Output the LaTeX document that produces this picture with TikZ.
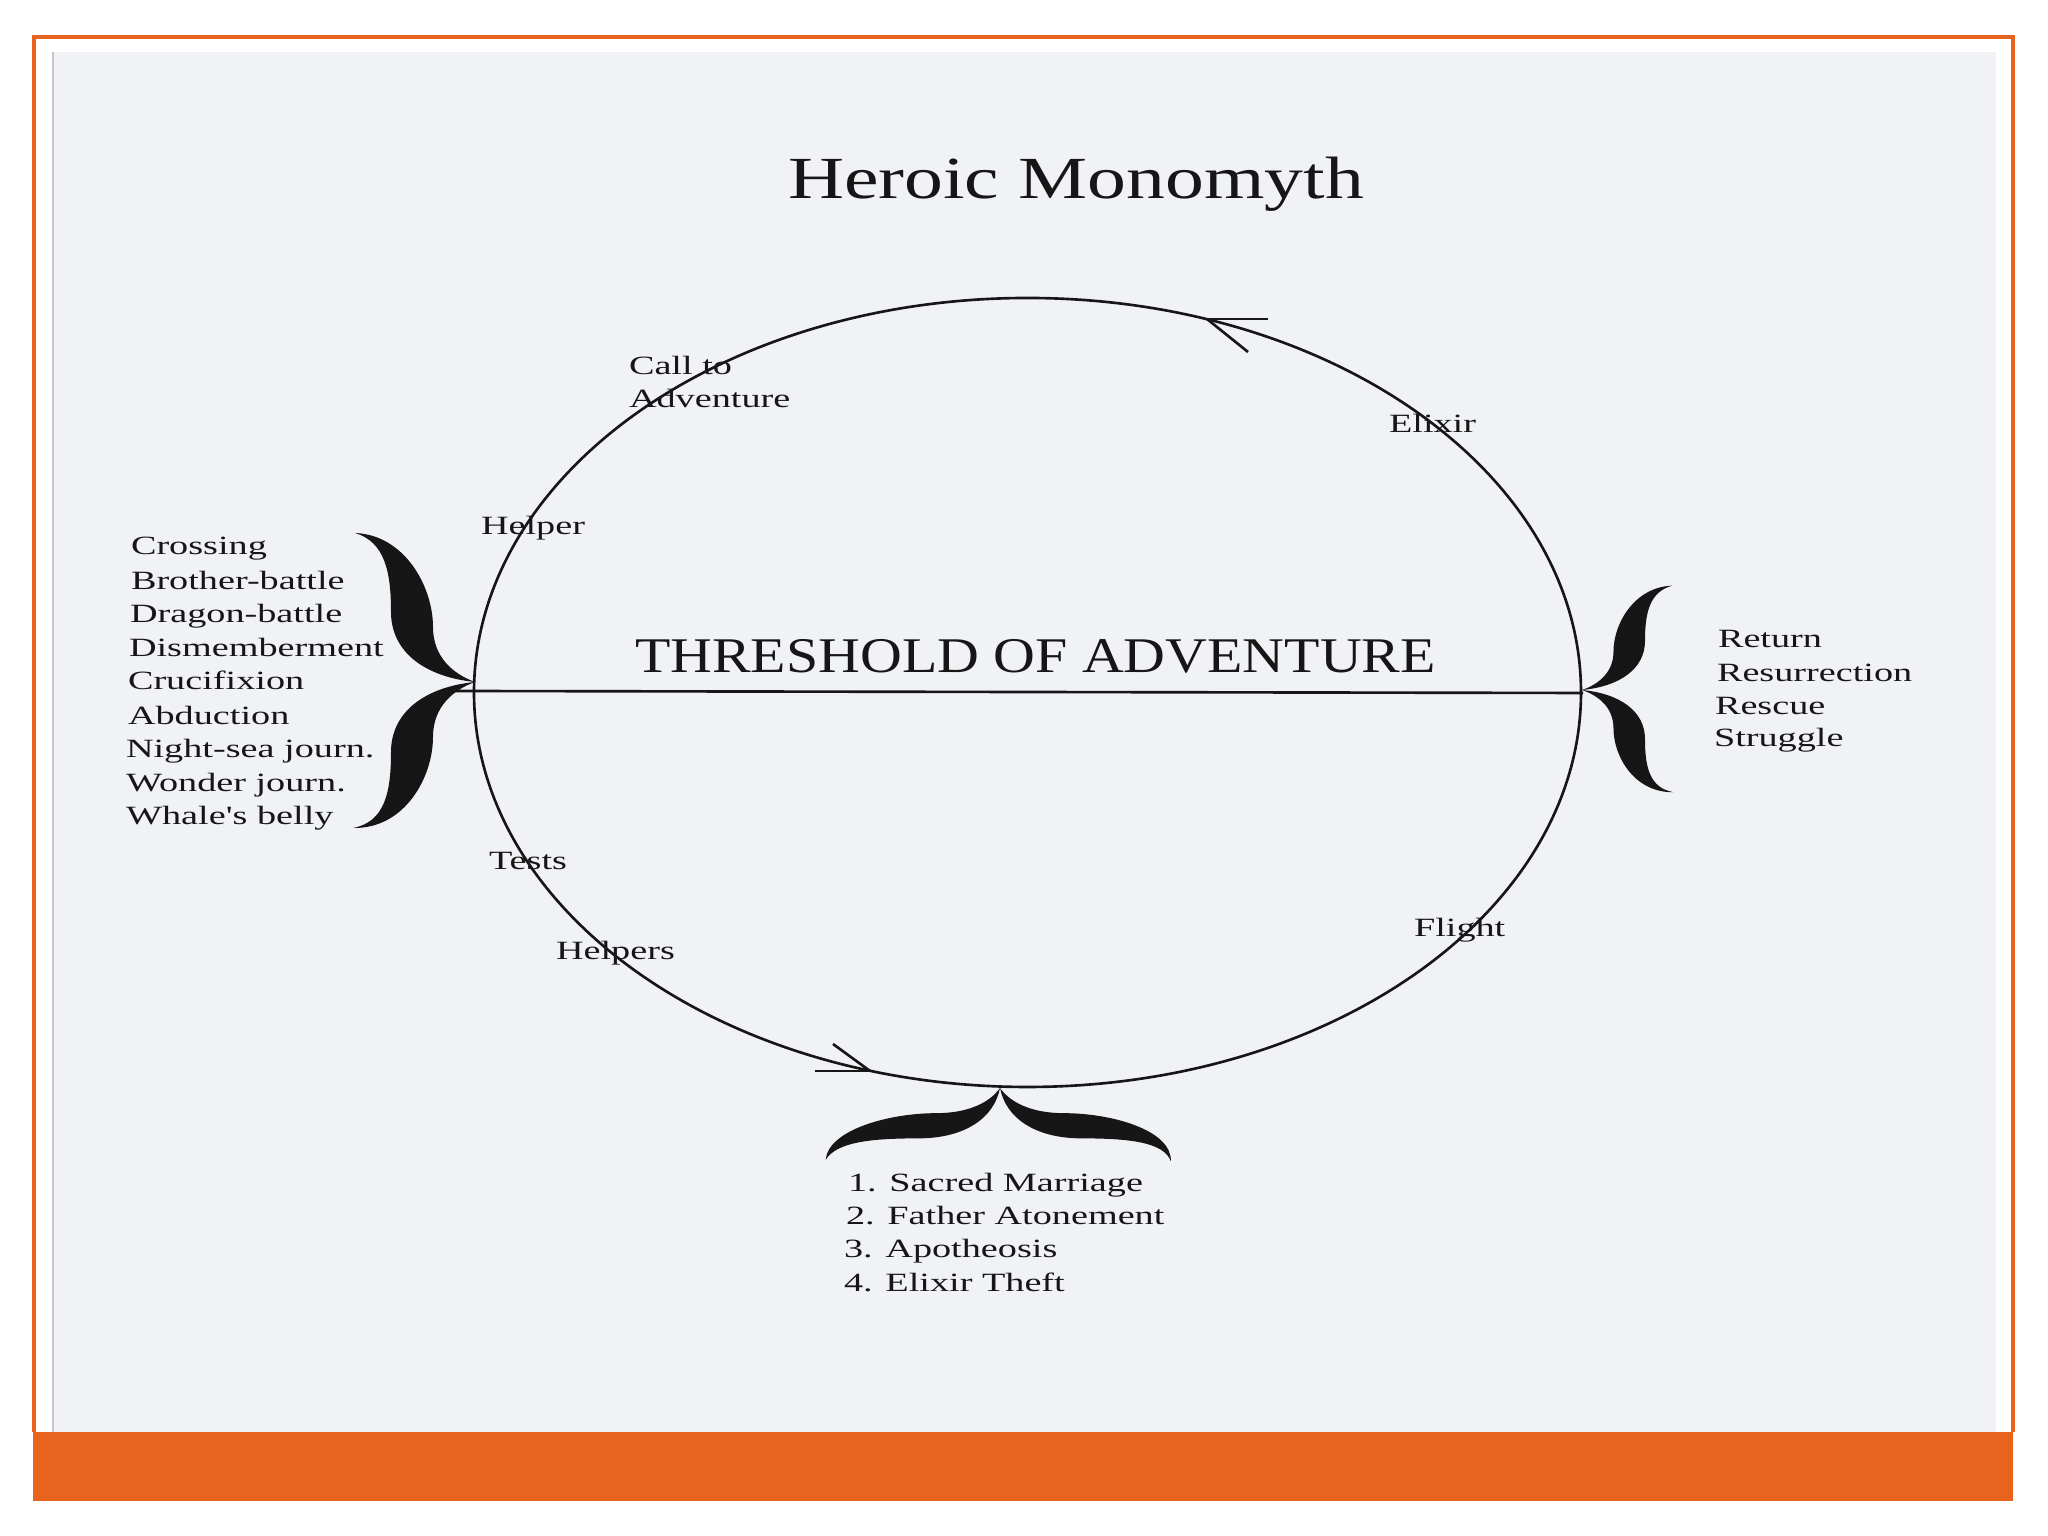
\documentclass[tikz,border=0pt]{standalone}
\usepackage{fontspec}
\setmainfont{Liberation Serif}
\usepackage{tikz}
\definecolor{ink}{RGB}{22,22,22}
\definecolor{paper}{RGB}{240,242,245}
\definecolor{slideorange}{RGB}{232,99,29}
\newcommand{\straightapos}{\XeTeXglyph\XeTeXglyphindex "quotesingle"\relax}

\tikzset{
  lbl/.style={font=\fontsize{7.5}{9.7}\selectfont, xscale=1.45, inner sep=0pt, text=ink, anchor=base west},
  heading/.style={font=\fontsize{17}{20}\selectfont, xscale=1.3, inner sep=0pt, text=ink, anchor=base},
  thresh/.style={font=\fontsize{14.2}{17}\selectfont, xscale=1.16, inner sep=0pt, text=ink, anchor=base},
  cycleline/.style={draw=ink, line width=0.75pt},
  herobrace/.pic={
    \fill[ink] (0,0) .. controls (-0.22,0.08) and (-0.42,0.25) .. (-0.42,0.55)
      .. controls (-0.42,0.95) and (-0.70,1.47) .. (-1.20,1.49)
      .. controls (-0.90,1.40) and (-0.84,1.10) .. (-0.84,0.70)
      .. controls (-0.84,0.30) and (-0.50,0.05) .. (0,0) -- cycle;
    \fill[ink] (0,0) .. controls (-0.22,-0.08) and (-0.42,-0.25) .. (-0.42,-0.55)
      .. controls (-0.42,-0.95) and (-0.70,-1.47) .. (-1.22,-1.46)
      .. controls (-0.90,-1.40) and (-0.84,-1.10) .. (-0.84,-0.70)
      .. controls (-0.84,-0.30) and (-0.50,-0.05) .. (0,0) -- cycle;
  }
}

\begin{document}
\begin{tikzpicture}
\useasboundingbox (0,0) rectangle (20.48,15.36);
\fill[white] (0,0) rectangle (20.48,15.36);
\draw[slideorange, line width=1.1pt] (0.34,1.04) -- (0.34,14.99) -- (20.13,14.99) -- (20.13,1.04);
\fill[paper] (0.52,1.04) rectangle (19.96,14.84);
\draw[gray!45, line width=0.8pt] (0.53,1.04) -- (0.53,14.84);
\fill[slideorange] (0.33,0.35) rectangle (20.13,1.04);

\node[heading] (title) at (10.76,13.37) {Heroic Monomyth};

\coordinate (ctr) at (10.275,8.435);
\coordinate (thl) at (4.50,8.45);
\coordinate (thr) at (15.83,8.43);
\draw[cycleline] (ctr) ellipse [x radius=5.535, y radius=3.945];
\draw[cycleline] (thl) -- (thr);
\node[thresh] (threshold) at (10.355,8.63) {THRESHOLD OF ADVENTURE};

\coordinate (toptip) at (12.07,12.17);
\coordinate (bottip) at (8.70,4.65);
\draw[cycleline] (toptip) -- (12.68,12.17);
\draw[cycleline] (toptip) -- (12.48,11.84);
\draw[cycleline] (bottip) -- (8.15,4.65);
\draw[cycleline] (bottip) -- (8.33,4.92);

\node[lbl] (call) at (6.28,11.61) {Call to};
\node[lbl] (adv) at (6.28,11.28) {Adventure};
\node[lbl] (helper) at (4.80,10.01) {Helper};
\node[lbl] (elixir) at (13.88,11.03) {Elixir};
\node[lbl] (tests) at (4.88,6.66) {Tests};
\node[lbl] (helpers) at (5.55,5.76) {Helpers};
\node[lbl] (flight) at (14.13,5.99) {Flight};

\pic at (4.75,8.54) {herobrace};
\pic[xscale=-0.75, yscale=0.70] at (15.82,8.46) {herobrace};
\pic[rotate=90, xscale=0.60, yscale=1.17] at (10.00,4.48) {herobrace};

\node[lbl] (c1) at (1.30,9.81) {Crossing};
\node[lbl] (c2) at (1.30,9.46) {Brother-battle};
\node[lbl] (c3) at (1.29,9.13) {Dragon-battle};
\node[lbl] (c4) at (1.28,8.79) {Dismemberment};
\node[lbl] (c5) at (1.27,8.46) {Crucifixion};
\node[lbl] (c6) at (1.27,8.11) {Abduction};
\node[lbl] (c7) at (1.25,7.78) {Night-sea journ.};
\node[lbl] (c8) at (1.25,7.44) {Wonder journ.};
\node[lbl] (c9) at (1.25,7.11) {Whale\straightapos s belly};

\node[lbl] (r1) at (17.17,8.88) {Return};
\node[lbl] (r2) at (17.16,8.54) {Resurrection};
\node[lbl] (r3) at (17.14,8.21) {Rescue};
\node[lbl] (r4) at (17.13,7.89) {Struggle};

\node[lbl] (s1) at (8.47,3.44) {1. Sacred Marriage};
\node[lbl] (s2) at (8.45,3.11) {2. Father Atonement};
\node[lbl] (s3) at (8.43,2.78) {3. Apotheosis};
\node[lbl] (s4) at (8.43,2.44) {4. Elixir Theft};
\end{tikzpicture}
\end{document}
